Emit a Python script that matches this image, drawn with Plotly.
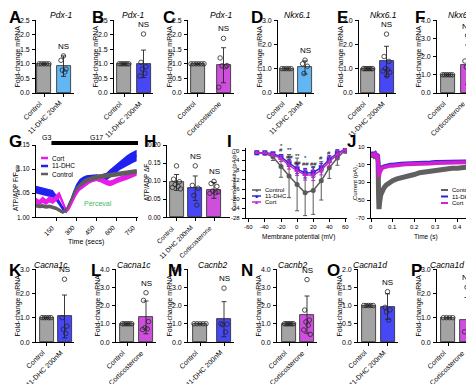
import plotly.graph_objects as go

W, H = 474, 384
FONT = "Arial, Liberation Sans, Helvetica, sans-serif"

# ======================= DATA =======================
bar_panels = ["A", "B", "C", "D", "E", "F", "K", "L", "M", "N", "O", "P"]
gene_names = ["Pdx-1", "Pdx-1", "Pdx-1", "Nkx6.1", "Nkx6.1", "Nkx6.1",
              "Cacna1c", "Cacna1c", "Cacnb2", "Cacnb2", "Cacna1d", "Cacna1d"]
ctrl_name = "Control"
treat_names = ["11-DHC 20nM", "11-DHC 200nM", "Corticosterone", "11-DHC 20nM",
               "11-DHC 200nM", "Corticosterone", "11-DHC 200nM", "Corticosterone",
               "11-DHC 200nM", "Corticosterone", "11-DHC 200nM", "Corticosterone"]
treat_kind = ["dhc20", "dhc200", "cort", "dhc20", "dhc200", "cort",
              "dhc200", "cort", "dhc200", "cort", "dhc200", "cort"]
ctrl_mean = [1.0, 1.0, 1.0, 1.0, 1.0, 1.0, 1.0, 1.0, 1.0, 1.0, 1.0, 1.0]
ctrl_sd = [0.02, 0.02, 0.02, 0.02, 0.02, 0.02, 0.02, 0.02, 0.02, 0.02, 0.02, 0.02]
treat_mean = [0.92, 1.0, 0.95, 1.05, 1.3, 1.55, 1.05, 1.35, 1.25, 1.5, 0.97, 0.9]
treat_sd = [0.35, 0.47, 0.6, 0.27, 0.62, 1.08, 0.88, 0.9, 0.96, 1.02, 0.35, 0.93]
ctrl_points = [
    [1.0, 1.0, 1.0, 1.0, 1.0],
    [1.0, 1.0, 1.0, 1.0, 1.0, 1.0],
    [1.0, 1.0, 1.0, 1.0, 1.0, 1.0],
    [1.0, 1.0, 1.0, 1.0, 1.0],
    [1.0, 1.0, 1.0, 1.0, 1.0, 1.0, 1.0],
    [1.0, 1.0, 1.0, 1.0, 1.0, 1.0],
    [1.0, 1.0, 1.0, 1.0, 1.0],
    [1.0, 1.0, 1.0, 1.0, 1.0, 1.0],
    [1.0, 1.0, 1.0, 1.0, 1.0],
    [1.0, 1.0, 1.0, 1.0, 1.0, 1.0, 1.0],
    [1.0, 1.0, 1.0, 1.0, 1.0],
    [1.0, 1.0, 1.0, 1.0],
]
treat_points = [
    [1.27, 1.12, 0.82, 0.78, 0.72],
    [2.02, 1.05, 0.9, 0.82, 0.68, 0.58],
    [1.87, 1.2, 0.94, 0.93, 0.9, 0.2],
    [1.35, 1.2, 1.1, 0.8],
    [2.42, 1.5, 1.3, 1.0, 0.95, 0.9, 0.85, 0.7],
    [3.15, 1.75, 1.48, 1.42, 0.25],
    [2.58, 1.0, 0.65, 0.52, 0.35],
    [2.7, 2.28, 1.12, 0.78, 0.72, 0.68],
    [2.95, 1.0, 0.98, 0.95, 0.55],
    [3.42, 1.75, 1.2, 1.1, 0.92, 0.66, 0.42],
    [1.38, 0.95, 0.88, 0.82, 0.6],
    [2.25, 0.42, 0.18],
]
y_max = [2.5, 2.5, 2.5, 3.0, 3.0, 4.0, 3.0, 4.0, 4.0, 4.0, 2.0, 3.0]
y_step = [0.5, 0.5, 0.5, 1.0, 1.0, 1.0, 1.0, 1.0, 1.0, 1.0, 0.5, 1.0]
sig_label = "NS"

g_time = [0, 25, 50, 75, 100, 125, 150, 175, 200, 225, 250, 275, 300, 325, 350, 375,
          400, 425, 450, 475, 500, 525, 550, 575, 600, 625, 650, 675, 700, 725, 750]
g_cort = [1.034, 1.030, 1.036, 1.031, 1.037, 1.033, 1.040, 1.046, 1.030, 1.013, 1.020,
          1.035, 1.050, 1.060, 1.066, 1.072, 1.076, 1.079, 1.081, 1.079, 1.075, 1.072,
          1.070, 1.072, 1.076, 1.079, 1.081, 1.083, 1.086, 1.089, 1.092]
g_cort_sem = [0.006, 0.006, 0.007, 0.006, 0.007, 0.006, 0.007, 0.007, 0.006, 0.005, 0.005,
              0.006, 0.006, 0.006, 0.006, 0.006, 0.006, 0.006, 0.006, 0.006, 0.006, 0.006,
              0.006, 0.006, 0.006, 0.006, 0.006, 0.006, 0.006, 0.006, 0.006]
g_dhc = [1.057, 1.055, 1.053, 1.052, 1.050, 1.048, 1.040, 1.028, 1.018, 1.012, 1.025,
         1.045, 1.062, 1.072, 1.077, 1.080, 1.081, 1.082, 1.082, 1.081, 1.082, 1.084,
         1.090, 1.096, 1.102, 1.108, 1.113, 1.117, 1.121, 1.125, 1.128]
g_dhc_sem = [0.008, 0.008, 0.008, 0.008, 0.008, 0.008, 0.007, 0.006, 0.005, 0.004, 0.006,
             0.007, 0.007, 0.007, 0.007, 0.007, 0.007, 0.007, 0.007, 0.007, 0.008, 0.008,
             0.009, 0.009, 0.010, 0.010, 0.011, 0.011, 0.012, 0.012, 0.012]
g_ctrl = [1.024, 1.022, 1.023, 1.021, 1.022, 1.020, 1.018, 1.014, 1.010, 1.015, 1.030,
          1.045, 1.058, 1.066, 1.072, 1.076, 1.079, 1.081, 1.083, 1.084, 1.085, 1.086,
          1.087, 1.088, 1.089, 1.090, 1.091, 1.092, 1.093, 1.094, 1.095]
g_ctrl_sem = [0.004, 0.004, 0.004, 0.004, 0.004, 0.004, 0.004, 0.004, 0.004, 0.004, 0.005,
              0.005, 0.005, 0.005, 0.005, 0.005, 0.005, 0.005, 0.005, 0.005, 0.005, 0.005,
              0.005, 0.005, 0.005, 0.005, 0.005, 0.005, 0.005, 0.005, 0.005]
g_xticks = [150, 300, 450, 600, 750]
g_yticks = [1.00, 1.05, 1.10, 1.15]
g17_start = 115
g_series_names = ["Cort", "11-DHC", "Control"]

h_groups = ["Control", "11 DHC 200nM", "Corticosterone"]
h_mean = [0.096, 0.080, 0.074]
h_sd = [0.022, 0.034, 0.022]
h_points = [
    [0.142, 0.105, 0.098, 0.090, 0.085, 0.082, 0.078],
    [0.142, 0.088, 0.080, 0.060, 0.033],
    [0.099, 0.093, 0.085, 0.072, 0.068, 0.066, 0.070],
]
h_yticks = [0.00, 0.05, 0.10, 0.15, 0.20]

i_voltage = [-50, -40, -30, -20, -10, 0, 10, 20, 30, 40, 50, 60]
i_ctrl = [-0.8, -1.0, -2.5, -6.5, -10.5, -14.0, -17.5, -16.5, -12.5, -7.0, -3.0, 0.5]
i_ctrl_sd = [0.5, 0.6, 1.5, 4.5, 9.0, 11.0, 9.5, 10.0, 8.0, 4.5, 3.0, 1.5]
i_dhc = [-0.8, -0.8, -1.2, -2.5, -5.0, -7.5, -9.3, -9.0, -7.0, -3.5, -1.0, 0.8]
i_dhc_sd = [0.3, 0.3, 0.5, 1.0, 1.5, 2.0, 2.0, 2.0, 1.8, 1.5, 1.5, 1.5]
i_cort = [-0.8, -0.9, -1.6, -3.2, -6.0, -8.3, -10.0, -10.2, -8.0, -4.5, -1.5, 0.6]
i_cort_sd = [0.3, 0.3, 0.6, 1.2, 1.6, 2.0, 2.2, 2.2, 2.0, 1.8, 1.5, 1.2]
i_mark_v = [-20, -20, -10, -10, 0, 0, 10, 10, 20, 30, 40]
i_mark_text = ["*", "#", "**", "##", "**", "##", "*", "##", "##", "#", "#"]
i_mark_y = [2.2, 0.3, 0.2, -2.7, -2.3, -5.0, -3.0, -5.5, -5.5, -3.0, -1.0]
i_xticks = [-60, -40, -20, 0, 20, 40, 60]
i_yticks = [0, -4, -8, -12, -16, -20, -24, -28]
i_names = ["Control", "11-DHC", "Cort"]

j_time = [0.000, 0.005, 0.010, 0.015, 0.020, 0.025, 0.030, 0.033, 0.035, 0.037, 0.040,
          0.045, 0.050, 0.060, 0.070, 0.080, 0.090, 0.100, 0.120, 0.140, 0.160, 0.180,
          0.200, 0.225, 0.250, 0.275, 0.300, 0.325, 0.350, 0.375, 0.400, 0.425, 0.450,
          0.475, 0.500]
j_ctrl = [1, -1, 2, 0, 1, -1, 1, -8, -45, -60, -52, -44, -40, -36, -33, -31, -30, -28,
          -26, -25, -23, -22, -21, -19, -18, -17, -16, -15, -15, -14, -14, -13, -13, -12, -12]
j_dhc = [3, 1, 4, 2, 3, 1, 2, -6, -18, -20, -16, -14, -13, -12, -11, -11, -10, -10, -9,
         -9, -8.5, -8.5, -8, -8, -7.5, -7.5, -7, -7, -7, -7, -6.5, -6.5, -6.5, -6, -6]
j_cort = [2, 0, 3, 1, 2, 0, 1, -8, -22, -24, -19, -16, -14, -13, -12, -12, -11, -11, -10,
          -10, -9.5, -9.5, -9, -9, -8.5, -8.5, -8, -8, -8, -7.5, -7.5, -7.5, -7, -7, -7]
j_xticks = [0, 0.1, 0.2, 0.3, 0.4, 0.5]
j_xtick_text = ["0", "0.1", "0.2", "0.3", "0.4", "0.5"]
j_yticks = [10, -10, -30, -50, -70]
j_names = ["Control", "11-DHC", "Cort"]

# ======================= STYLE / LAYOUT =======================
GRAY_BAR = "#a3a3a3"
EDGE = "#262626"
TREAT_COLOR = {"dhc20": "#62b6f2", "dhc200": "#4747f5", "cort": "#cd4fdc"}
G_COL = {"Cort": "#e81ce8", "11-DHC": "#2020f0", "Control": "#5e5e5e"}
I_COL = {"Control": "#5a5a5a", "11-DHC": "#2b2bd8", "Cort": "#c428c4"}
J_COL = {"Control": "#606060", "11-DHC": "#2424e0", "Cort": "#d020d0"}
JIT = [0.0, -0.13, 0.13, -0.06, 0.07, -0.18, 0.18, 0.02]
XTICK_COLOR = "black"
YTICK_COLOR = "black"

ROW1 = (12, 85)
ROW3 = (261, 334)
bar_geom = {
    "A": (28, 36, 55.5, 66, *ROW1, 53),
    "B": (106, 116, 135.5, 145, *ROW1, 125),
    "C": (180, 189.5, 215.5, 226, *ROW1, 213),
    "D": (270, 278.5, 297, 306, *ROW1, 289),
    "E": (351, 360, 378.5, 388, *ROW1, 375),
    "F": (429, 439.5, 459.5, 469, *ROW1, 453),
    "K": (28, 38.5, 56.5, 66, *ROW3, 43),
    "L": (108, 119, 138, 148, *ROW3, 126),
    "M": (180, 192, 216, 226, *ROW3, 205),
    "N": (269, 281, 299, 309, *ROW3, 285),
    "O": (350, 360.5, 379.5, 390, *ROW3, 362),
    "P": (429, 440, 459, 469, *ROW3, 439),
}
letter_pos = {"A": (7, 9), "B": (90, 9), "C": (161, 9), "D": (249, 9), "E": (334, 9),
              "F": (412, 9), "G": (8, 134), "H": (142, 134), "I": (221, 134),
              "J": (343, 134), "K": (7, 262), "L": (88, 262), "M": (167, 262),
              "N": (239, 262), "O": (325, 262), "P": (408, 262)}


def X(px):
    return px / W


def Y(py):
    return 1 - py / H


def aid(n):
    return "" if n == 1 else str(n)


annotations = []
shapes = []
axes = {}


def fnt(size, color="black"):
    return dict(size=size, color=color, family=FONT)


def add_text(text, x, y, size=7, color="black", angle=0, xanchor="center",
             yanchor="middle"):
    annotations.append(dict(text=text, x=X(x), y=Y(y), xref="paper", yref="paper",
                            showarrow=False, textangle=angle, xanchor=xanchor,
                            yanchor=yanchor, font=fnt(size, color)))


def make_axes(n, xl, xr, top, bot, xrange, yrange, xticks, yticks):
    axes[f"xaxis{aid(n)}"] = dict(
        domain=[X(xl), X(xr)], range=xrange, tickvals=xticks, anchor=f"y{aid(n)}",
        showline=True, linecolor="black", linewidth=1, ticks="outside", ticklen=3,
        tickcolor="black", showgrid=False, zeroline=False, showticklabels=False)
    axes[f"yaxis{aid(n)}"] = dict(
        domain=[Y(bot), Y(top)], range=yrange, tickvals=yticks, anchor=f"x{aid(n)}",
        showline=True, linecolor="black", linewidth=1, ticks="outside", ticklen=3,
        tickcolor="black", showgrid=False, zeroline=False, showticklabels=False)


def tick_labels(xl, xr, top, bot, xrange, yrange, xticks, xtexts, yticks, ytexts,
                size, rotated):
    for v, t in zip(yticks, ytexts):
        py = bot - (v - yrange[0]) / (yrange[1] - yrange[0]) * (bot - top)
        add_text(t, xl - 4, py, size=size, xanchor="right", color=YTICK_COLOR)
    for v, t in zip(xticks, xtexts):
        px = xl + (v - xrange[0]) / (xrange[1] - xrange[0]) * (xr - xl)
        if rotated:
            add_text(t, px + 2, bot + 4, size=size, angle=-45, xanchor="right",
                     yanchor="top", color=XTICK_COLOR)
        else:
            add_text(t, px, bot + 4, size=size, yanchor="top", color=XTICK_COLOR)


fig = go.Figure()

for i, pid in enumerate(bar_panels):
    n = i + 1
    xl, c0, c1, xr, top, bot, tx = bar_geom[pid]
    unit = c1 - c0
    xa, ya = f"x{aid(n)}", f"y{aid(n)}"
    color = TREAT_COLOR[treat_kind[i]]
    fig.add_trace(go.Bar(
        x=[0, 1], y=[ctrl_mean[i], treat_mean[i]], width=14 / unit,
        marker=dict(color=[GRAY_BAR, color], line=dict(color=EDGE, width=0.8)),
        error_y=dict(type="data", array=[ctrl_sd[i], treat_sd[i]], color=EDGE,
                     thickness=0.9, width=2.5),
        xaxis=xa, yaxis=ya, hoverinfo="skip"))
    cp, tp = ctrl_points[i], treat_points[i]
    cx = [-0.25 + 0.5 * k / (len(cp) - 1) for k in range(len(cp))]
    txs = [1 + JIT[k % len(JIT)] for k in range(len(tp))]
    fig.add_trace(go.Scatter(
        x=cx + txs, y=cp + tp, mode="markers",
        marker=dict(symbol="circle-open", size=4.5, color=EDGE, line=dict(width=0.8)),
        xaxis=xa, yaxis=ya, hoverinfo="skip"))
    yt = []
    v = 0.0
    while v <= y_max[i] + 1e-9:
        yt.append(round(v, 2))
        v += y_step[i]
    xrange = [-(c0 - xl) / unit, 1 + (xr - c1) / unit]
    yrange = [0, y_max[i]]
    make_axes(n, xl, xr, top, bot, xrange, yrange, [0, 1], yt)
    tick_labels(xl, xr, top, bot, xrange, yrange, [0, 1], [ctrl_name, treat_names[i]],
                yt, [f"{t:.1f}" for t in yt], 7, True)
    annotations.append(dict(text=sig_label, x=1, y=max(tp), xref=xa, yref=ya,
                            showarrow=False, yanchor="bottom", yshift=3, font=fnt(8)))
    add_text(f"<i>{gene_names[i]}</i>", tx, top - 5 if top < 100 else top - 4, size=8.5)
    add_text("Fold-change mRNA", xl - 19, (top + bot) / 2, size=7, angle=-90)

for name, ys, sem in [("11-DHC", g_dhc, g_dhc_sem), ("Cort", g_cort, g_cort_sem),
                      ("Control", g_ctrl, g_ctrl_sem)]:
    col = G_COL[name]
    fig.add_trace(go.Scatter(x=g_time, y=[a + b for a, b in zip(ys, sem)], mode="lines",
                             line=dict(width=0, color=col), xaxis="x13", yaxis="y13",
                             hoverinfo="skip"))
    fig.add_trace(go.Scatter(x=g_time, y=[a - b for a, b in zip(ys, sem)], mode="lines",
                             line=dict(width=0, color=col), fill="tonexty", fillcolor=col,
                             xaxis="x13", yaxis="y13", hoverinfo="skip"))
    fig.add_trace(go.Scatter(x=g_time, y=ys, mode="lines", line=dict(width=1.5, color=col),
                             xaxis="x13", yaxis="y13", hoverinfo="skip"))
g_geom = (28, 130, 137, 209, [0, 760], [1.0, 1.15])
make_axes(13, *g_geom, g_xticks, g_yticks)
tick_labels(*g_geom, g_xticks, [str(t) for t in g_xticks], g_yticks,
            [f"{t:.2f}" for t in g_yticks], 6.5, True)
shapes.append(dict(type="line", xref="x13", yref="paper", x0=g17_start, x1=760,
                   y0=Y(135), y1=Y(135), line=dict(color="black", width=4)))
add_text("G3", 38, 129, size=7)
add_text("G17", 88, 129, size=7)
add_text("ATP/ADP F/F<sub>min</sub>", 8, 180, size=6.5, angle=-90)
add_text("Time (secs)", 78, 234, size=7)
add_text("Perceval", 90, 195, size=7, color="#3dbb5a")
for k, name in enumerate(g_series_names):
    yy = 150 + 8 * k
    shapes.append(dict(type="line", xref="paper", yref="paper", x0=X(33), x1=X(40),
                       y0=Y(yy), y1=Y(yy), line=dict(color=G_COL[name], width=2.5)))
    add_text(name, 42, yy, size=6.5, xanchor="left")

h_colors = [GRAY_BAR, TREAT_COLOR["dhc200"], TREAT_COLOR["cort"]]
h_unit = 18.75
fig.add_trace(go.Bar(x=[0, 1, 2], y=h_mean, width=14 / h_unit,
                     marker=dict(color=h_colors, line=dict(color=EDGE, width=0.8)),
                     error_y=dict(type="data", array=h_sd, color=EDGE, thickness=0.9,
                                  width=2.5),
                     xaxis="x14", yaxis="y14", hoverinfo="skip"))
hx, hy = [], []
for g, pts in enumerate(h_points):
    hx += [g + JIT[k % len(JIT)] * 1.2 for k in range(len(pts))]
    hy += pts
fig.add_trace(go.Scatter(x=hx, y=hy, mode="markers",
                         marker=dict(symbol="circle-open", size=4.5, color=EDGE,
                                     line=dict(width=0.8)),
                         xaxis="x14", yaxis="y14", hoverinfo="skip"))
for g in (1, 2):
    annotations.append(dict(text=sig_label, x=g, y=max(h_points[g]), xref="x14",
                            yref="y14", showarrow=False, yanchor="bottom", yshift=3,
                            font=fnt(8)))
h_geom = (159, 222, 137, 209, [-9.5 / h_unit, 2 + 16 / h_unit], [0, 0.2])
make_axes(14, *h_geom, [0, 1, 2], h_yticks)
tick_labels(*h_geom, [0, 1, 2], h_groups, h_yticks, [f"{t:.2f}" for t in h_yticks],
            6.5, True)
add_text("ATP/ADP ΔF", 138, 175, size=6.5, angle=-90)

for name, ys, sd, sym in [("Control", i_ctrl, i_ctrl_sd, "circle"),
                          ("11-DHC", i_dhc, i_dhc_sd, "square"),
                          ("Cort", i_cort, i_cort_sd, "triangle-up")]:
    col = I_COL[name]
    fig.add_trace(go.Scatter(x=i_voltage, y=ys, mode="lines+markers",
                             line=dict(color=col, width=1.5),
                             marker=dict(symbol=sym, size=5, color=col),
                             error_y=dict(type="data", array=sd, color=col, thickness=1,
                                          width=2),
                             xaxis="x15", yaxis="y15", hoverinfo="skip"))
I_TOP = 1.2
I_PX_PER_UNIT = 70 / (I_TOP + 28)
for v, t, yv in zip(i_mark_v, i_mark_text, i_mark_y):
    yuse = min(yv, 1.0)
    annotations.append(dict(text=t, x=v, y=yuse, xref="x15", yref="y15", showarrow=False,
                            yshift=(yv - yuse) * I_PX_PER_UNIT, font=fnt(6)))
i_geom = (238, 339, 140, 210, [-63.5, 62], [-28, I_TOP])
make_axes(15, *i_geom, i_xticks, i_yticks)
tick_labels(*i_geom, i_xticks, [str(t) for t in i_xticks], i_yticks,
            [str(t) for t in i_yticks], 6, False)
add_text("Current density (pA/pF)", 226, 172, size=6, angle=-90)
add_text("Membrane potential (mV)", 290, 229, size=6.5)
marker_chars = {"Control": "●", "11-DHC": "■", "Cort": "▲"}
for k, name in enumerate(i_names):
    yy = 182 + 6 * k
    shapes.append(dict(type="line", xref="paper", yref="paper", x0=X(244), x1=X(253),
                       y0=Y(yy), y1=Y(yy), line=dict(color=I_COL[name], width=1.5)))
    add_text(marker_chars[name], 248.5, yy, size=5, color=I_COL[name])
    add_text(name, 255, yy, size=6, xanchor="left")

for name, ys, wdt in [("Control", j_ctrl, 5), ("11-DHC", j_dhc, 4), ("Cort", j_cort, 4)]:
    fig.add_trace(go.Scatter(x=j_time, y=ys, mode="lines",
                             line=dict(color=J_COL[name], width=wdt),
                             xaxis="x16", yaxis="y16", hoverinfo="skip"))
j_geom = (363, 471, 139, 210, [0, 0.5], [-70, 10])
make_axes(16, *j_geom, j_xticks, j_yticks)
tick_labels(*j_geom, j_xticks, j_xtick_text, j_yticks, [str(t) for t in j_yticks], 6,
            False)
add_text("Current (pA)", 347, 176, size=6, angle=-90)
add_text("Time (s)", 418, 229, size=6.5)
for k, name in enumerate(j_names):
    yy = 182 + 6.5 * k
    shapes.append(dict(type="line", xref="paper", yref="paper", x0=X(433), x1=X(440),
                       y0=Y(yy), y1=Y(yy), line=dict(color=J_COL[name], width=2)))
    add_text(name, 442, yy, size=6, xanchor="left")

for lab, (lx, ly) in letter_pos.items():
    add_text(f"<b>{lab}</b>", lx, ly, size=17)

fig.update_layout(
    width=W, height=H, margin=dict(l=0, r=0, t=0, b=0, pad=0, autoexpand=False),
    paper_bgcolor="white", plot_bgcolor="white", showlegend=False,
    annotations=annotations, shapes=shapes, bargap=0, **axes)

fig.write_html("out.html")
